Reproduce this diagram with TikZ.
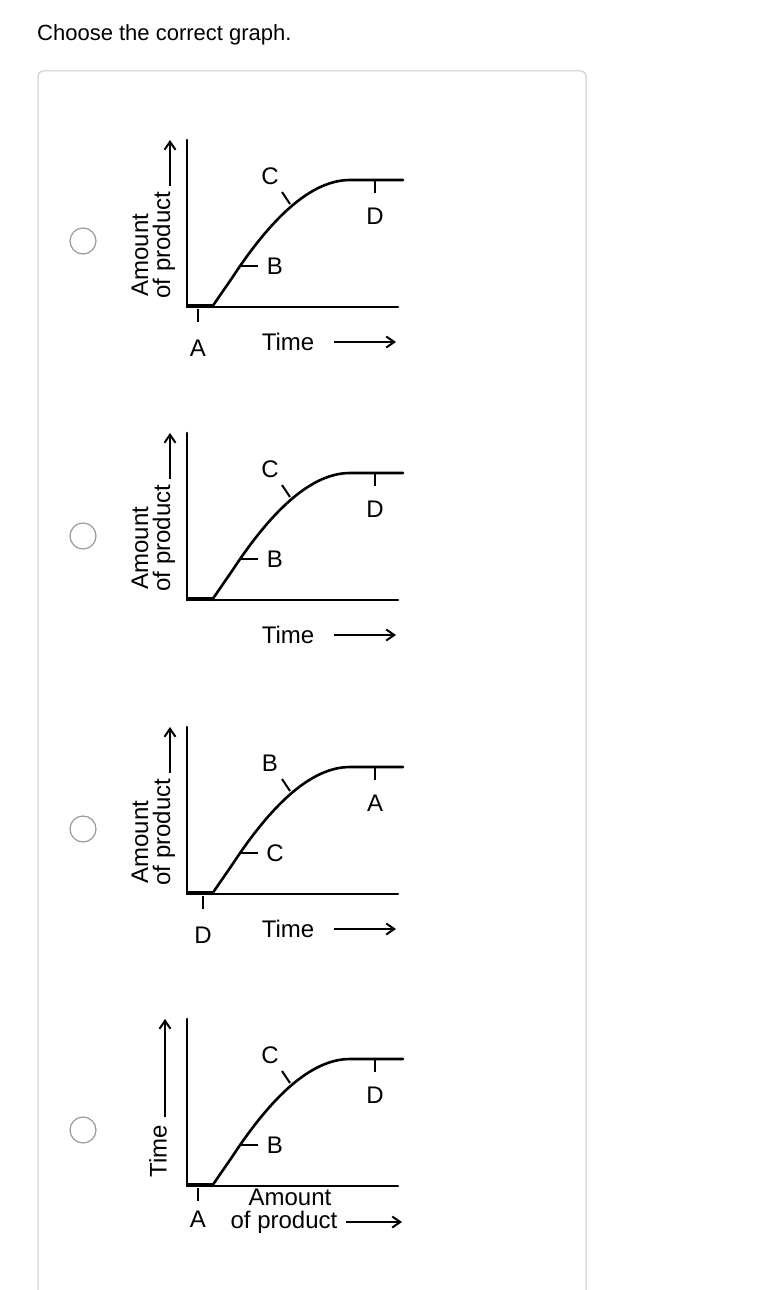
\documentclass[tikz,border=0pt]{standalone}
\usepackage{fontspec}
\setmainfont{Liberation Sans}
\usetikzlibrary{arrows.meta}
\begin{document}
\begin{tikzpicture}[x=1pt,y=-1pt,
  ln/.style={line width=2.6pt,line cap=round},
  tk/.style={line width=2pt},
  lb/.style={font=\fontsize{24}{24}\selectfont,inner sep=0pt},
  arr/.style={line width=2pt,-{Straight Barb[length=8pt,width=11pt]}},
  radio/.style={circle,draw=gray!80,line width=1.2pt,minimum size=26pt,inner sep=0pt}]
\useasboundingbox (0,0) rectangle (778,1290);
\node[anchor=west,font=\fontsize{22}{22}\selectfont,inner sep=0pt] (title) at (37,35) {Choose the correct graph.};
\draw[gray!45,line width=1pt,rounded corners=5pt] (38,1300) -- (38,71) -- (586,71) -- (586,1300);
\newcommand\curve{%
  \draw[ln] (187,140) -- (187,307) -- (398,307);
  \draw[line width=4.5pt] (187,306) -- (212,306);
  \draw[ln] (212,307) -- (232,278) .. controls (270,220) and (310,180) .. (350,180) -- (403,180);
  \draw[tk] (240,266) -- (258,266);
  \draw[tk] (290,204) -- (282,192);
  \draw[tk] (375,181) -- (375,193);}
\newcommand\ylab{%
  \node[lb,rotate=90] (am) at (140,255) {Amount};
  \node[lb,rotate=90] (op) at (164,245) {of product};
  \draw[arr] (170,186) -- (170,140);}
\newcommand\xlab{%
  \node[lb] (ti) at (288,342) {Time};
  \draw[arr] (334,342) -- (396,342);}
% graph 1
\node[radio] (r1) at (83,241) {};
\begin{scope}
\curve\ylab\xlab
\draw[tk] (198,309) -- (198,322);
\node[lb] at (198,348) {A};
\node[lb] at (275,266) {B};
\node[lb] at (270,176) {C};
\node[lb] at (375,216) {D};
\end{scope}
% graph 2
\node[radio] (r2) at (83,536) {};
\begin{scope}[yshift=-293pt]
\curve\ylab\xlab
\node[lb] at (275,266) {B};
\node[lb] at (270,176) {C};
\node[lb] at (375,216) {D};
\end{scope}
% graph 3
\node[radio] (r3) at (83,829) {};
\begin{scope}[yshift=-587pt]
\curve\ylab\xlab
\draw[tk] (203,309) -- (203,322);
\node[lb] at (203,348) {D};
\node[lb] at (275,266) {C};
\node[lb] at (270,176) {B};
\node[lb] at (375,216) {A};
\end{scope}
% graph 4
\node[radio] (r4) at (83,1130) {};
\begin{scope}[yshift=-879pt]
\curve
\node[lb,rotate=90] at (158,272) {Time};
\draw[arr] (165,238) -- (165,140);
\draw[tk] (198,309) -- (198,322);
\node[lb] at (198,340) {A};
\node[lb] at (290,318) {Amount};
\node[lb] at (284,343) {of product};
\draw[arr] (346,343) -- (402,343);
\node[lb] at (275,266) {B};
\node[lb] at (270,176) {C};
\node[lb] at (375,216) {D};
\end{scope}
\end{tikzpicture}
\end{document}
